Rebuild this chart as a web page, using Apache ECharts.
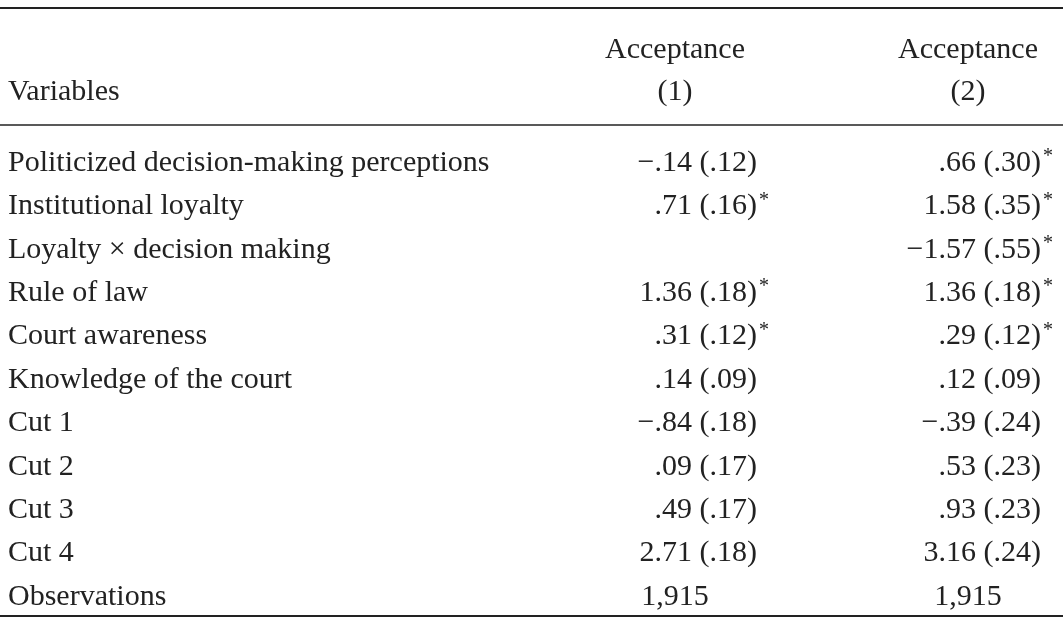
<!DOCTYPE html><html><head><meta charset="utf-8">
<script src="https://cdn.jsdelivr.net/npm/echarts@6/dist/echarts.min.js"></script>
<style>html,body{margin:0;background:#fff}#c{width:1063px;height:622px}</style></head>
<body><div id="c"></div><script>
const headers = ["Variables", "Acceptance\n(1)", "Acceptance\n(2)"];
const variables = ["Politicized decision-making perceptions","Institutional loyalty","Loyalty × decision making","Rule of law","Court awareness","Knowledge of the court","Cut 1","Cut 2","Cut 3","Cut 4","Observations"];
const col1 = ["−.14 (.12)",".71 (.16)","","1.36 (.18)",".31 (.12)",".14 (.09)","−.84 (.18)",".09 (.17)",".49 (.17)","2.71 (.18)","1,915"];
const sig1 = [false,true,false,true,true,false,false,false,false,false,false];
const col2 = [".66 (.30)","1.58 (.35)","−1.57 (.55)","1.36 (.18)",".29 (.12)",".12 (.09)","−.39 (.24)",".53 (.23)",".93 (.23)","3.16 (.24)","1,915"];
const sig2 = [true,true,true,true,true,false,false,false,false,false,false];

const F = '"Liberation Serif","DejaVu Serif",serif', FS = 30, C = '#222';
const g = [];
const line = (y,w)=>g.push({type:'line',shape:{x1:0,y1:y,x2:1063,y2:y},style:{stroke:'#222',lineWidth:w}});
line(8,2); line(125,1.5); line(616,2);
const txt = (x,y,t,align,size,lh)=>g.push({type:'text',x,y,style:{text:t,font:`${size||FS}px ${F}`,fill:C,align:align||'left',verticalAlign:'middle',lineHeight:lh||42}});
txt(8,92,headers[0]);
txt(675,71,headers[1],'center');
txt(968,71,headers[2],'center');
const rows = variables.length;
for (let i=0;i<rows;i++){
  const y = 163 + i*(597-163)/(rows-1);
  txt(8,y,variables[i]);
  if (i===rows-1){ txt(675,y,col1[i],'center'); txt(968,y,col2[i],'center'); continue; }
  if (col1[i]) txt(757,y,col1[i],'right');
  if (sig1[i]) txt(759,y-6,'*','left',20);
  if (col2[i]) txt(1041,y,col2[i],'right');
  if (sig2[i]) txt(1043,y-6,'*','left',20);
}
const ch = echarts.init(document.getElementById('c'));
ch.setOption({animation:false,graphic:g});
</script></body></html>
